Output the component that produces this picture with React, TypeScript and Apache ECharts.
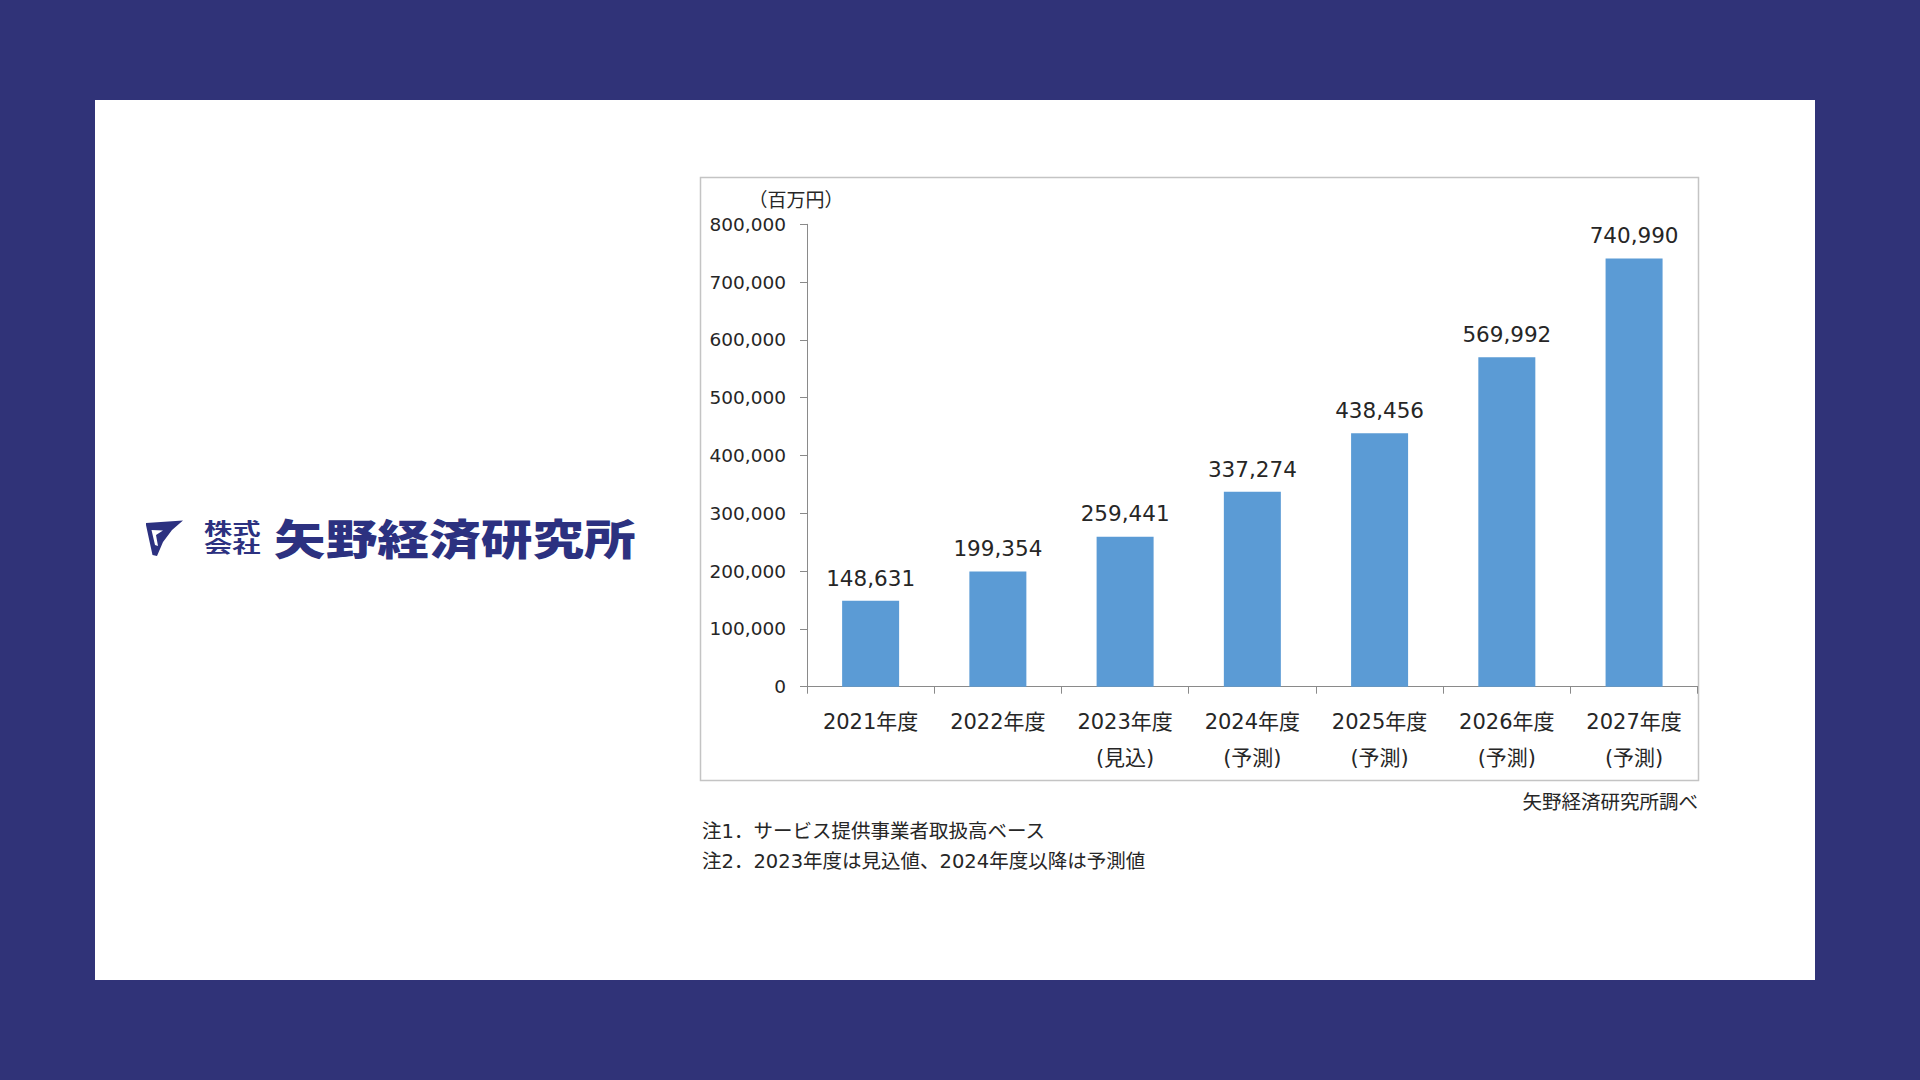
import React, { useEffect, useRef } from "react";
import * as echarts from "echarts";

const categories = [
  "2021年度",
  "2022年度",
  "2023年度\n(見込)",
  "2024年度\n(予測)",
  "2025年度\n(予測)",
  "2026年度\n(予測)",
  "2027年度\n(予測)",
];
const marketValues = [148631, 199354, 259441, 337274, 438456, 569992, 740990];
const yMin = 0;
const yMax = 800000;
const yInterval = 100000;

const unitLabel = "（百万円）";
const sourceLabel = "矢野経済研究所調べ";
const notes = [
  "注1．サービス提供事業者取扱高ベース",
  "注2．2023年度は見込値、2024年度以降は予測値",
];
const logoSmallTop = "株式";
const logoSmallBottom = "会社";
const logoMain = "矢野経済研究所";

const NAVY = "#303378";
const LOGO = "#2c3180";
const FONT = "'DejaVu Sans', 'Noto Sans CJK JP', sans-serif";
const CJK = "'Noto Sans CJK JP', sans-serif";
const fmt = (v: number) => v.toLocaleString("en-US");

export default function App() {
  const ref = useRef<HTMLDivElement>(null);
  useEffect(() => {
    if (!ref.current) return;
    const chart = echarts.init(ref.current, null, { renderer: "svg" });
    chart.setOption({
      animation: false,
      backgroundColor: NAVY,
      grid: { left: 807, top: 224.3, right: 222.3, bottom: 393.3, containLabel: false },
      xAxis: {
        type: "category",
        data: categories,
        axisLine: { show: true, lineStyle: { color: "#8a8a8a", width: 1 } },
        axisTick: { show: true, length: 7, alignWithLabel: false, lineStyle: { color: "#8a8a8a" } },
        axisLabel: {
          margin: 17,
          fontFamily: FONT,
          fontSize: 21,
          lineHeight: 36,
          color: "#262626",
          interval: 0,
        },
        splitLine: { show: false },
      },
      yAxis: {
        type: "value",
        min: yMin,
        max: yMax,
        interval: yInterval,
        axisLine: { show: true, lineStyle: { color: "#8a8a8a", width: 1 } },
        axisTick: { show: true, length: 7, lineStyle: { color: "#8a8a8a" } },
        axisLabel: {
          margin: 21,
          fontFamily: FONT,
          fontSize: 18.5,
          color: "#262626",
          formatter: (v: number) => fmt(v),
        },
        splitLine: { show: false },
      },
      series: [
        {
          type: "bar",
          data: marketValues,
          barWidth: 57,
          itemStyle: { color: "#5b9bd5" },
          label: {
            show: true,
            position: "top",
            distance: 12,
            fontFamily: FONT,
            fontSize: 21.5,
            color: "#262626",
            formatter: (p: any) => fmt(p.value),
          },
        },
      ],
      graphic: [
        {
          type: "rect",
          z: -20,
          silent: true,
          shape: { x: 95, y: 100, width: 1720, height: 880 },
          style: { fill: "#ffffff" },
        },
        {
          type: "rect",
          z: -10,
          silent: true,
          shape: { x: 700.5, y: 177.5, width: 998, height: 603 },
          style: { fill: "#ffffff", stroke: "#c4c4c4", lineWidth: 1.5 },
        },
        {
          type: "text",
          x: 796,
          y: 198,
          style: {
            text: unitLabel,
            font: `19px ${CJK}`,
            fill: "#262626",
            textAlign: "center",
            textVerticalAlign: "middle",
          },
        },
        {
          type: "text",
          x: 1698,
          y: 800,
          style: {
            text: sourceLabel,
            font: `19.5px ${CJK}`,
            fill: "#262626",
            textAlign: "right",
            textVerticalAlign: "middle",
          },
        },
        {
          type: "text",
          x: 702,
          y: 831,
          style: {
            text: notes[0],
            font: `19.5px ${FONT}`,
            fill: "#262626",
            textAlign: "left",
            textVerticalAlign: "middle",
          },
        },
        {
          type: "text",
          x: 702,
          y: 861,
          style: {
            text: notes[1],
            font: `19.5px ${FONT}`,
            fill: "#262626",
            textAlign: "left",
            textVerticalAlign: "middle",
          },
        },
        // logo icon
        {
          type: "polygon",
          shape: {
            points: [
              [146, 523],
              [183, 520.5],
              [172, 530],
              [163, 542],
              [157, 556],
              [152.5, 555],
              [149, 539],
              [146, 525],
            ],
          },
          style: { fill: LOGO },
        },
        {
          type: "polygon",
          shape: {
            points: [
              [151.5, 530],
              [163, 530.5],
              [156, 535],
              [158, 546],
              [155, 545],
            ],
          },
          style: { fill: "#ffffff" },
        },
        {
          type: "text",
          x: 204,
          y: 528,
          scaleX: 1.62,
          style: {
            x: 0,
            y: 0,
            text: logoSmallTop,
            font: `bold 17.5px ${CJK}`,
            fill: LOGO,
            textAlign: "left",
            textVerticalAlign: "middle",
          },
        },
        {
          type: "text",
          x: 204,
          y: 546,
          scaleX: 1.62,
          style: {
            x: 0,
            y: 0,
            text: logoSmallBottom,
            font: `bold 17.5px ${CJK}`,
            fill: LOGO,
            textAlign: "left",
            textVerticalAlign: "middle",
          },
        },
        {
          type: "text",
          x: 274,
          y: 537,
          scaleX: 1.245,
          style: {
            x: 0,
            y: 0,
            text: logoMain,
            font: `900 41.5px ${CJK}`,
            fill: LOGO,
            textAlign: "left",
            textVerticalAlign: "middle",
          },
        },
      ],
    });
    return () => chart.dispose();
  }, []);
  return (
    <div
      ref={ref}
      style={{ position: "absolute", left: 0, top: 0, width: 1920, height: 1080 }}
    />
  );
}
